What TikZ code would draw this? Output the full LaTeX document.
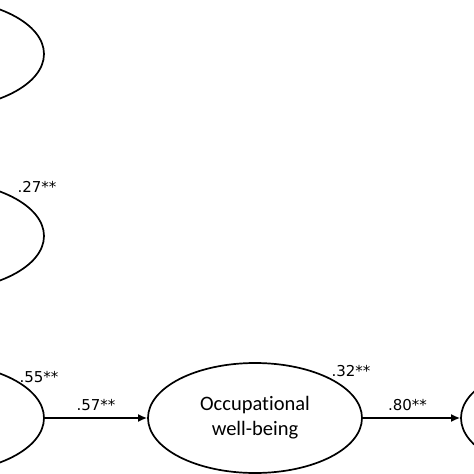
\documentclass[tikz,border=0pt]{standalone}
\usepackage{fontspec}
\setmainfont[Ligatures=NoCommon]{Carlito}
\newfontfamily\coeffont{DejaVu Sans}
\usetikzlibrary{shapes.geometric,arrows.meta}
\begin{document}
\begin{tikzpicture}[x=1pt, y=-1pt,
    latent/.style={draw, ellipse, line width=1.7pt, inner sep=0pt,
      minimum width=214pt, minimum height=110pt, align=center,
      font=\fontsize{20.5}{25}\selectfont},
    coef/.style={inner sep=0pt, font=\coeffont\fontsize{15}{17}\selectfont},
    path/.style={line width=1.7pt, -{Latex[length=9pt,width=8pt]}}]
    \useasboundingbox (0,0) rectangle (474,474);
    \clip (0,0) rectangle (474,474);

    % latent variables
    \node[latent] (topvar) at (-63,54) {};
    \node[latent] (midvar) at (-63,236) {};
    \node[latent] (lowvar) at (-63,418) {};
    \node[latent] (occwb) at (255,418) {Occupational\\well-being};
    \node[latent] (outvar) at (568,418) {};

    %%%%
    \draw[path] (lowvar) -- node[coef, above=6pt] {.57**} (occwb);
    \draw[path] (occwb) -- node[coef, above=6pt, xshift=-4pt] {.80**} (outvar);

    % explained variance
    \node[coef] (rtop) at (37,187) {.27**};
    \node[coef] (rlow) at (39,377) {.55**};
    \node[coef] (rocc) at (351,371) {.32**};
\end{tikzpicture}
\end{document}
